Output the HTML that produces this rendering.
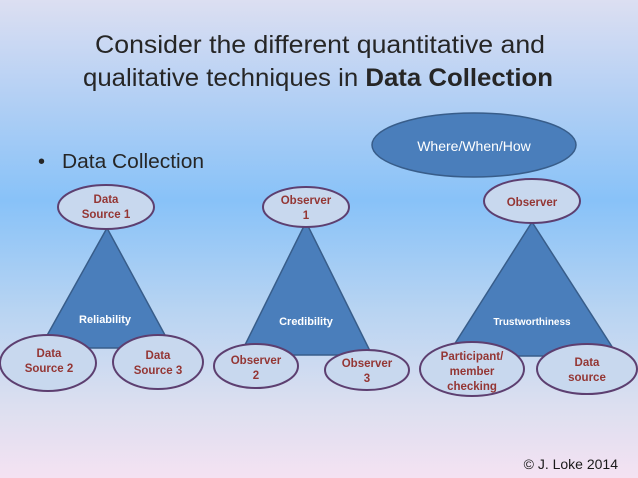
<!DOCTYPE html>
<html><head><meta charset="utf-8"><style>html,body{margin:0;padding:0;width:638px;height:478px;overflow:hidden}</style></head>
<body>
<svg width="638" height="478" viewBox="0 0 638 478" xmlns="http://www.w3.org/2000/svg" font-family="'Liberation Sans', sans-serif">
<defs>
<linearGradient id="bg" x1="0" y1="0" x2="0" y2="1">
<stop offset="0" stop-color="#dcdff2"/>
<stop offset="0.2" stop-color="#b4d0f4"/>
<stop offset="0.42" stop-color="#88c2f8"/>
<stop offset="0.65" stop-color="#b8d4f2"/>
<stop offset="0.85" stop-color="#dcdff0"/>
<stop offset="1" stop-color="#f4e2f2"/>
</linearGradient>
</defs>
<rect width="638" height="478" fill="url(#bg)"/>
<g fill="#262626" font-size="25" text-anchor="middle">
<text x="320" y="53" textLength="450" lengthAdjust="spacingAndGlyphs">Consider the different quantitative and</text>
<text x="318" y="86" textLength="470" lengthAdjust="spacingAndGlyphs">qualitative techniques in <tspan font-weight="bold">Data Collection</tspan></text>
</g>
<text x="38" y="168" font-size="20" fill="#262626">•</text>
<text x="62" y="168" font-size="20" fill="#262626" textLength="142" lengthAdjust="spacingAndGlyphs">Data Collection</text>
<g fill="#4a7ebb" stroke="#385d8a" stroke-width="1.5">
<polygon points="107,228 40,348 172,348"/>
<polygon points="306,222 240,355 372,355"/>
<polygon points="532,222 447,356 618,356"/>
<ellipse cx="474" cy="145" rx="102" ry="32"/>
</g>
<text x="474" y="151" font-size="14" fill="#fff" text-anchor="middle">Where/When/How</text>
<g font-size="11" font-weight="bold" fill="#fff" text-anchor="middle">
<text x="105" y="323">Reliability</text>
<text x="306" y="325">Credibility</text>
<text x="532" y="325" font-size="10">Trustworthiness</text>
</g>
<g fill="#c8d8ee" stroke="#5d3f70" stroke-width="2">
<ellipse cx="106" cy="207" rx="48" ry="22"/>
<ellipse cx="48" cy="363" rx="48" ry="28"/>
<ellipse cx="158" cy="362" rx="45" ry="27"/>
<ellipse cx="306" cy="207" rx="43" ry="20"/>
<ellipse cx="256" cy="366" rx="42" ry="22"/>
<ellipse cx="367" cy="370" rx="42" ry="20"/>
<ellipse cx="532" cy="201" rx="48" ry="22"/>
<ellipse cx="472" cy="369" rx="52" ry="27"/>
<ellipse cx="587" cy="369" rx="50" ry="25"/>
</g>
<g font-size="11.5" font-weight="bold" fill="#943634" text-anchor="middle">
<text x="106" y="203">Data</text><text x="106" y="218">Source 1</text>
<text x="49" y="357">Data</text><text x="49" y="372">Source 2</text>
<text x="158" y="359">Data</text><text x="158" y="374">Source 3</text>
<text x="306" y="204">Observer</text><text x="306" y="219">1</text>
<text x="256" y="364">Observer</text><text x="256" y="379">2</text>
<text x="367" y="367">Observer</text><text x="367" y="382">3</text>
<text x="532" y="206">Observer</text>
<text x="472" y="360">Participant/</text><text x="472" y="375">member</text><text x="472" y="390">checking</text>
<text x="587" y="366">Data</text><text x="587" y="381">source</text>
</g>
<text x="618" y="469" font-size="14" fill="#1a1a1a" text-anchor="end">© J. Loke 2014</text>
</svg>
</body></html>
